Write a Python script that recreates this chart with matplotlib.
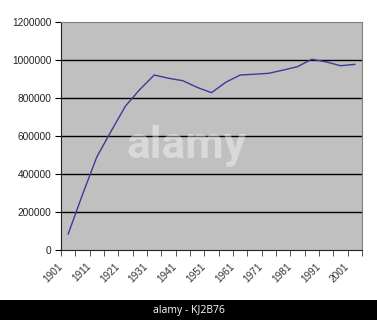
import matplotlib

matplotlib.use("Agg", force=True)
import matplotlib.pyplot as plt
import matplotlib.transforms as mtransforms
import numpy as np

years = [1901, 1906, 1911, 1916, 1921, 1926, 1931, 1936, 1941, 1946, 1951,
         1956, 1961, 1966, 1971, 1976, 1981, 1986, 1991, 1996, 2001]
population = [84000, 292000, 490000, 626000, 758000, 845000, 921000, 904000, 891000, 856000, 828000,
              883000, 921000, 925000, 930000, 947000, 965000, 1004000, 990000, 970000, 977000]
y_ticks = [0, 200000, 400000, 600000, 800000, 1000000, 1200000]

plt.rcParams["font.family"] = ["Liberation Sans", "DejaVu Sans"]

fig = plt.figure(figsize=(3.77, 3.2), dpi=100)
ax = fig.add_axes([61 / 377, 70 / 320, 301 / 377, 228 / 320])
ax.set_facecolor("#c0c0c0")

x = np.arange(len(years))
ax.plot(x, population, color="#3b3b9c", linewidth=1.0, zorder=3)

ax.set_xlim(-0.5, len(years) - 0.5)
ax.set_ylim(0, 1200000)
ax.set_yticks(y_ticks, labels=[str(v) for v in y_ticks])
for v in y_ticks[1:-1]:
    ax.axhline(v, color="black", linewidth=1.0, zorder=1)

ax.set_xticks(x[::2], labels=[str(y) for y in years[::2]])
ax.set_xticks(np.arange(-0.5, len(years)), minor=True)
ax.tick_params(axis="x", which="major", length=0, pad=8, labelsize=7.3, labelcolor="#333333")
ax.tick_params(axis="x", which="minor", length=4, direction="out", color="#333333")
ax.tick_params(axis="y", length=4, direction="out", labelsize=7.3, labelcolor="#222222", pad=3)

offset = mtransforms.ScaledTranslation(-4 / 100, 0, fig.dpi_scale_trans)
for lbl in ax.get_xticklabels():
    lbl.set_rotation(45)
    lbl.set_ha("right")
    lbl.set_va("top")
    lbl.set_transform(lbl.get_transform() + offset)

for side in ["left", "bottom"]:
    ax.spines[side].set_color("#222222")
for side in ["top", "right"]:
    ax.spines[side].set_color("#808080")

# faint watermark over the plot area
fig.text(187 / 377, 1 - 146 / 320, "alamy", color="white", alpha=0.4, fontsize=32,
         fontweight="bold", ha="center", va="center",
         family=["Roboto", "DejaVu Sans"])

# black strip at the bottom
fig.patches.append(plt.Rectangle((0, 0), 1, 20 / 320, transform=fig.transFigure,
                                 facecolor="black", edgecolor="none"))
fig.text(0.5, 10 / 320, "alamy - KJ2B76", color="white", fontsize=7.5,
         ha="center", va="center", family=["Open Sans", "DejaVu Sans"])

fig.savefig("out.png", dpi=100)
